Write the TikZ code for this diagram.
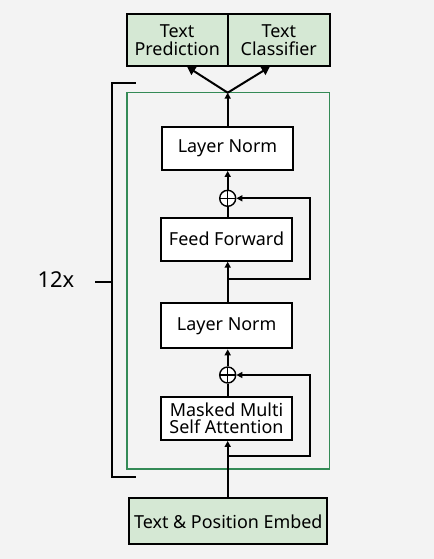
\documentclass[tikz,border=0pt]{standalone}
\usepackage{fontspec}
\setmainfont{Noto Sans}
\usetikzlibrary{arrows.meta}
\definecolor{bggray}{RGB}{243,243,243}
\definecolor{blockgreen}{RGB}{52,138,86}
\definecolor{headfill}{RGB}{213,232,212}
\begin{document}
\begin{tikzpicture}[x=1bp,y=-1bp,
    box/.style={draw,line width=2bp,fill=white,inner sep=0pt,align=center,
        minimum width=131bp,minimum height=44bp,font=\fontsize{18}{18}\selectfont},
    head/.style={box,fill=headfill},
    addop/.style={draw,circle,line width=1.4bp,fill=white,minimum size=16bp,inner sep=0pt,
        path picture={\draw[line width=1.4bp] (path picture bounding box.north) -- (path picture bounding box.south)
            (path picture bounding box.west) -- (path picture bounding box.east);}},
    arr/.style={line width=1.6bp,-{Triangle[length=6bp,width=6bp]}},
    bigarr/.style={line width=2bp,-{Triangle[length=8bp,width=9bp]}}]
    \fill[bggray] (0,0) rectangle (434,559);
    %% Repeated block and bracket
    \draw[blockgreen,line width=1.6bp] (126.7,92.7) rectangle (329.3,469);
    \draw[line width=2bp] (135.7,83.3) -- (111.7,83.3) -- (111.7,476.7) -- (135.7,476.7);
    \draw[line width=2bp] (95,281.5) -- (111.7,281.5);
    \node[font=\fontsize{22}{24}\selectfont] (times) at (56,280) {12x};
    %% Heads
    \node[head,minimum width=101bp,minimum height=52bp] (pred) at (177.2,39.8) {Text\\Prediction};
    \node[head,minimum width=102.3bp,minimum height=52bp] (cls) at (278.8,39.8) {Text\\Classifier};
    %% Layers
    \node[box,minimum height=43.3bp] (lntop) at (227.5,148.3) {Layer Norm};
    \node[addop] (addtop) at (227.7,198.3) {};
    \node[box,minimum height=43bp] (ff) at (226.5,239.2) {Feed Forward};
    \node[box,minimum height=45bp] (lnbot) at (226.7,325.8) {Layer Norm};
    \node[addop] (addbot) at (227.7,375) {};
    \node[box,minimum height=43.3bp] (att) at (226.5,418.3) {Masked Multi\\Self Attention};
    \node[head,minimum width=198bp,minimum height=46bp] (embed) at (228.3,521.3) {Text \& Position Embed};
    %% Connectors
    \coordinate (blocktop) at (227.7,92.7);
    \coordinate (skipbot) at (227.7,456);
    \coordinate (skipbotr) at (310,456);
    \coordinate (skiptop) at (227.7,278.7);
    \coordinate (skiptopr) at (310,278.7);
    \draw[arr] (embed.north -| addbot) -- (att.south -| addbot);
    \draw[line width=1.6bp] (att.north -| addbot) -- (addbot);
    \draw[arr] (addbot) -- (lnbot.south -| addbot);
    \draw[arr] (skipbot) -- (skipbotr) -- (skipbotr |- addbot) -- (addbot);
    \draw[arr] (lnbot.north -| addtop) -- (ff.south -| addtop);
    \draw[line width=1.6bp] (ff.north -| addtop) -- (addtop);
    \draw[arr] (addtop) -- (lntop.south -| addtop);
    \draw[arr] (skiptop) -- (skiptopr) -- (skiptopr |- addtop) -- (addtop);
    \draw[arr] (lntop.north -| blocktop) -- (blocktop);
    \draw[bigarr] (blocktop) -- ([xshift=10bp]pred.south);
    \draw[bigarr] (blocktop) -- ([xshift=-9bp]cls.south);
\end{tikzpicture}
\end{document}
